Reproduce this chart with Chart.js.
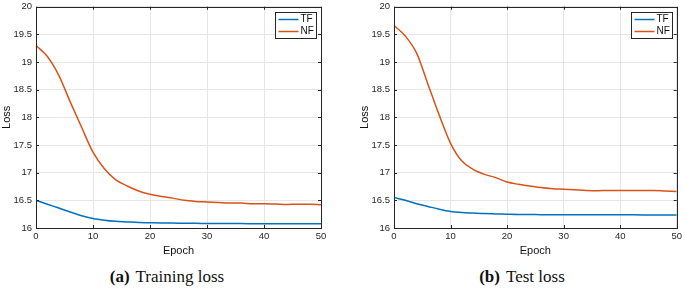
<!DOCTYPE html>
<html>
<head>
<meta charset="utf-8">
<script src="https://cdn.jsdelivr.net/npm/chart.js@4.4.1/dist/chart.umd.min.js"></script>
<style>
  body { margin: 0; background: #fff; width: 685px; height: 288px; overflow: hidden; position: relative; }
  .box { position: absolute; top: -3px; width: 340px; height: 265px; }
  .cap { position: absolute; top: 267px; font-family: "Liberation Serif", serif; font-size: 17px; color: #111; white-space: nowrap; transform: translateX(-50%); }
  .cap b { margin-right: 6px; }
</style>
</head>
<body>
<div class="box" style="left:0"><canvas id="trainChart" width="340" height="265"></canvas></div>
<div class="box" style="left:345px"><canvas id="testChart" width="340" height="265"></canvas></div>
<div class="cap" style="left:167px"><b>(a)</b>Training loss</div>
<div class="cap" style="left:522px"><b>(b)</b>Test loss</div>
<script>
const epochs = [0, 2, 4, 6, 8, 10, 12, 14, 16, 18, 20, 22, 24, 26, 28, 30, 32, 34, 36, 38, 40, 42, 44, 46, 48, 50];

const trainTF = [16.50, 16.43, 16.36, 16.29, 16.22, 16.17, 16.14, 16.12, 16.11, 16.10, 16.095, 16.09, 16.09, 16.085, 16.085, 16.08,
  16.08, 16.08, 16.08, 16.078, 16.077, 16.077, 16.076, 16.075, 16.075, 16.075];
const trainNF = [19.30, 19.10, 18.76, 18.28, 17.82, 17.37, 17.07, 16.87, 16.76, 16.67, 16.61, 16.57, 16.54, 16.50, 16.48, 16.47,
  16.46, 16.45, 16.45, 16.44, 16.44, 16.435, 16.425, 16.43, 16.43, 16.42];

const testTF = [16.55, 16.50, 16.44, 16.39, 16.34, 16.30, 16.28, 16.27, 16.26, 16.255, 16.25, 16.245, 16.245, 16.24, 16.24, 16.24,
  16.24, 16.24, 16.24, 16.24, 16.24, 16.238, 16.236, 16.235, 16.235, 16.235];
const testNF = [19.66, 19.47, 19.16, 18.60, 18.04, 17.53, 17.21, 17.06, 16.97, 16.91, 16.83, 16.79, 16.76, 16.73, 16.71, 16.70,
  16.69, 16.68, 16.675, 16.68, 16.68, 16.68, 16.68, 16.68, 16.67, 16.66];

const xTicks = [0, 10, 20, 30, 40, 50];
const yTicks = [16, 16.5, 17, 17.5, 18, 18.5, 19, 19.5, 20];

const axisColor = '#262626';
const tickFont = { family: 'Liberation Sans, Arial, sans-serif', size: 9.5, lineHeight: 1.2 };
const titleFont = { family: 'Liberation Sans, Arial, sans-serif', size: 11 };

// matlab style box with inward ticks plus legend inside top right
const boxPlugin = {
  id: 'matlabBox',
  afterDraw(chart) {
    const { ctx, chartArea: a, scales } = chart;
    ctx.save();
    ctx.strokeStyle = axisColor;
    ctx.lineWidth = 1;
    ctx.strokeRect(Math.round(a.left) + 0.5, Math.round(a.top) + 0.5,
      Math.round(a.right - a.left), Math.round(a.bottom - a.top));
    ctx.beginPath();
    xTicks.forEach(v => {
      const x = Math.round(scales.x.getPixelForValue(v)) + 0.5;
      ctx.moveTo(x, a.bottom); ctx.lineTo(x, a.bottom - 3);
      ctx.moveTo(x, a.top); ctx.lineTo(x, a.top + 3);
    });
    yTicks.forEach(v => {
      const y = Math.round(scales.y.getPixelForValue(v)) + 0.5;
      ctx.moveTo(a.left, y); ctx.lineTo(a.left + 3, y);
      ctx.moveTo(a.right, y); ctx.lineTo(a.right - 3, y);
    });
    ctx.stroke();

    // legend
    const w = 41, h = 26;
    const lx = Math.round(a.right - 5 - w) + 0.5, ly = Math.round(a.top + 5) + 0.5;
    ctx.fillStyle = '#fff';
    ctx.fillRect(lx, ly, w, h);
    ctx.strokeStyle = axisColor;
    ctx.strokeRect(lx, ly, w, h);
    ctx.font = '10px Liberation Sans, Arial, sans-serif';
    ctx.textBaseline = 'middle';
    chart.data.datasets.forEach((ds, i) => {
      const yy = ly + 7 + i * 12;
      ctx.strokeStyle = ds.borderColor;
      ctx.lineWidth = 1.5;
      ctx.beginPath();
      ctx.moveTo(lx + 3, yy); ctx.lineTo(lx + 23, yy);
      ctx.stroke();
      ctx.fillStyle = '#111';
      ctx.fillText(ds.label, lx + 25, yy);
    });
    ctx.restore();
  }
};

function makeChart(id, tf, nf, padLeft, padRight) {
  return new Chart(document.getElementById(id), {
    type: 'line',
    data: {
      labels: epochs,
      datasets: [
        { label: 'TF', data: epochs.map((e, i) => ({ x: e, y: tf[i] })), borderColor: '#0072BD', borderWidth: 1.5, pointRadius: 0, cubicInterpolationMode: 'monotone' },
        { label: 'NF', data: epochs.map((e, i) => ({ x: e, y: nf[i] })), borderColor: '#D95319', borderWidth: 1.5, pointRadius: 0, cubicInterpolationMode: 'monotone' }
      ]
    },
    options: {
      responsive: false,
      animation: false,
      devicePixelRatio: 1,
      layout: { padding: { left: padLeft, right: padRight, top: 0, bottom: 0 } },
      plugins: { legend: { display: false }, tooltip: { enabled: false } },
      scales: {
        x: {
          type: 'linear', min: 0, max: 50,
          afterBuildTicks: s => { s.ticks = xTicks.map(v => ({ value: v })); },
          afterFit: s => { s.height = 34; },
          ticks: { font: tickFont, color: axisColor, padding: 3, maxRotation: 0, callback: v => String(v) },
          grid: { color: '#e6e6e6', drawTicks: false },
          border: { display: false },
          title: { display: true, text: 'Epoch', font: titleFont, color: '#111', padding: { top: 0, bottom: 4 } }
        },
        y: {
          type: 'linear', min: 16, max: 20,
          afterBuildTicks: s => { s.ticks = yTicks.map(v => ({ value: v })); },
          afterFit: s => { s.width = 36; },
          ticks: { font: tickFont, color: axisColor, padding: 4, callback: v => String(v) },
          grid: { color: '#e6e6e6', drawTicks: false },
          border: { display: false },
          title: { display: true, text: 'Loss', font: titleFont, color: '#111', padding: 0 }
        }
      }
    },
    plugins: [boxPlugin]
  });
}

makeChart('trainChart', trainTF, trainNF, 0, 19);
makeChart('testChart', testTF, testNF, 13, 6);
</script>
</body>
</html>
